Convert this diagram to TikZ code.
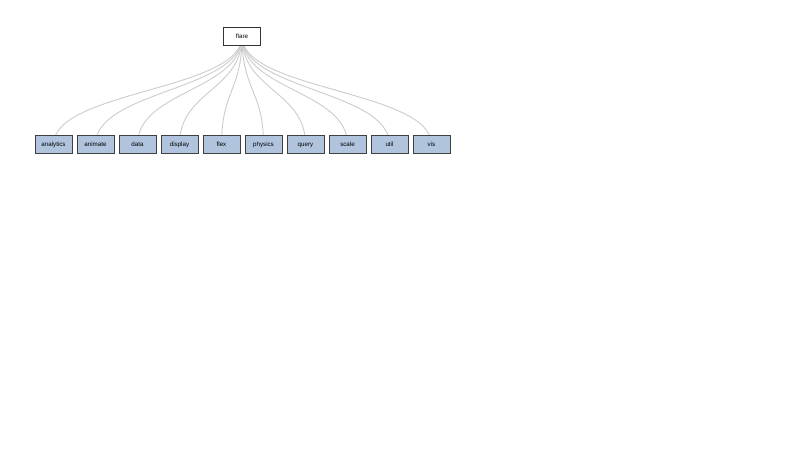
\documentclass[tikz,border=0pt]{standalone}
\usepackage{fontspec}
\setmainfont{Liberation Sans}
\usetikzlibrary{backgrounds}
\definecolor{leaffill}{HTML}{B0C4DE}
\definecolor{linkgray}{HTML}{CCCCCC}
\begin{document}
\begin{tikzpicture}[x=1pt, y=-1pt,
    box/.style={draw=black!80, line width=1pt, minimum width=37pt, minimum height=18pt, inner sep=0pt, text height=5.4pt, text depth=0.6pt, font=\fontsize{6.2}{7}\selectfont},
    leaf/.style={box, fill=leaffill, draw=black!75},
    link/.style={draw=linkgray, line width=0.9pt}]
    \useasboundingbox (0,0) rectangle (800,450);
    \node[box, fill=white] (flare) at (242,36.5) {flare};

    \node[leaf] (analytics) at (53.5,144.5) {analytics};
    \node[leaf] (animate) at (95.5,144.5) {animate};
    \node[leaf] (data) at (137.5,144.5) {data};
    \node[leaf] (display) at (179.5,144.5) {display};
    \node[leaf] (flex) at (221.5,144.5) {flex};
    \node[leaf] (physics) at (263.5,144.5) {physics};
    \node[leaf] (query) at (305.5,144.5) {query};
    \node[leaf] (scale) at (347.5,144.5) {scale};
    \node[leaf] (util) at (389.5,144.5) {util};
    \node[leaf] (vis) at (431.5,144.5) {vis};

    \begin{pgfonlayer}{background}
    \draw[link] (flare.center) .. controls +(0,54) and +(0,-54) .. (analytics.center);
    \draw[link] (flare.center) .. controls +(0,54) and +(0,-54) .. (animate.center);
    \draw[link] (flare.center) .. controls +(0,54) and +(0,-54) .. (data.center);
    \draw[link] (flare.center) .. controls +(0,54) and +(0,-54) .. (display.center);
    \draw[link] (flare.center) .. controls +(0,54) and +(0,-54) .. (flex.center);
    \draw[link] (flare.center) .. controls +(0,54) and +(0,-54) .. (physics.center);
    \draw[link] (flare.center) .. controls +(0,54) and +(0,-54) .. (query.center);
    \draw[link] (flare.center) .. controls +(0,54) and +(0,-54) .. (scale.center);
    \draw[link] (flare.center) .. controls +(0,54) and +(0,-54) .. (util.center);
    \draw[link] (flare.center) .. controls +(0,54) and +(0,-54) .. (vis.center);
    \end{pgfonlayer}
\end{tikzpicture}
\end{document}
